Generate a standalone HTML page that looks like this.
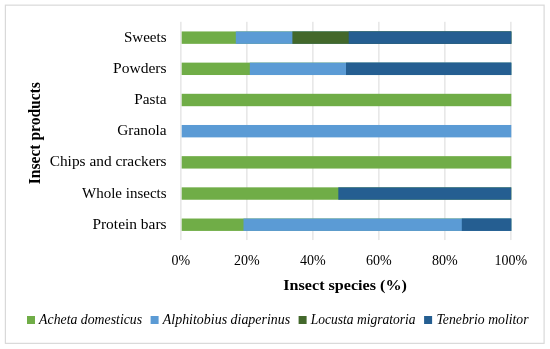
<!DOCTYPE html><html><head><meta charset="utf-8"><style>html,body{margin:0;padding:0;background:#fff;width:550px;height:349px;overflow:hidden}svg{display:block;will-change:transform;filter:blur(0.35px)}text{font-family:"Liberation Serif",serif;fill:#000}</style></head><body>
<svg width="550" height="349" viewBox="0 0 550 349">
<rect x="0" y="0" width="550" height="349" fill="#fff"/>
<rect x="5.4" y="5.15" width="538.7" height="338.2" fill="none" stroke="#D9D9D9" stroke-width="1.2"/>
<line x1="180.90" y1="21.8" x2="180.90" y2="240.06" stroke="#D9D9D9" stroke-width="1"/>
<line x1="246.90" y1="21.8" x2="246.90" y2="240.06" stroke="#D9D9D9" stroke-width="1"/>
<line x1="312.90" y1="21.8" x2="312.90" y2="240.06" stroke="#D9D9D9" stroke-width="1"/>
<line x1="378.90" y1="21.8" x2="378.90" y2="240.06" stroke="#D9D9D9" stroke-width="1"/>
<line x1="444.90" y1="21.8" x2="444.90" y2="240.06" stroke="#D9D9D9" stroke-width="1"/>
<line x1="510.90" y1="21.8" x2="510.90" y2="240.06" stroke="#D9D9D9" stroke-width="1"/>
<rect x="181.70" y="31.44" width="329.60" height="12.4" fill="#70AD47"/>
<rect x="235.80" y="31.44" width="275.50" height="12.4" fill="#5B9BD5"/>
<rect x="292.40" y="31.44" width="218.90" height="12.4" fill="#43682B"/>
<rect x="348.70" y="31.44" width="162.60" height="12.4" fill="#255E91"/>
<rect x="181.70" y="62.62" width="329.60" height="12.4" fill="#70AD47"/>
<rect x="249.80" y="62.62" width="261.50" height="12.4" fill="#5B9BD5"/>
<rect x="346.00" y="62.62" width="165.30" height="12.4" fill="#255E91"/>
<rect x="181.70" y="93.80" width="329.60" height="12.4" fill="#70AD47"/>
<rect x="181.70" y="124.98" width="329.60" height="12.4" fill="#5B9BD5"/>
<rect x="181.70" y="156.16" width="329.60" height="12.4" fill="#70AD47"/>
<rect x="181.70" y="187.34" width="329.60" height="12.4" fill="#70AD47"/>
<rect x="338.30" y="187.34" width="173.00" height="12.4" fill="#255E91"/>
<rect x="181.70" y="218.52" width="329.60" height="12.4" fill="#70AD47"/>
<rect x="243.50" y="218.52" width="267.80" height="12.4" fill="#5B9BD5"/>
<rect x="461.80" y="218.52" width="49.50" height="12.4" fill="#255E91"/>
<text x="166.6" y="41.69" font-size="15" text-anchor="end" textLength="42.7" lengthAdjust="spacingAndGlyphs">Sweets</text>
<text x="166.6" y="72.87" font-size="15" text-anchor="end" textLength="53.6" lengthAdjust="spacingAndGlyphs">Powders</text>
<text x="166.6" y="104.05" font-size="15" text-anchor="end" textLength="32.3" lengthAdjust="spacingAndGlyphs">Pasta</text>
<text x="166.6" y="135.23" font-size="15" text-anchor="end" textLength="49.3" lengthAdjust="spacingAndGlyphs">Granola</text>
<text x="166.6" y="166.41" font-size="15" text-anchor="end" textLength="116.9" lengthAdjust="spacingAndGlyphs">Chips and crackers</text>
<text x="166.6" y="197.59" font-size="15" text-anchor="end" textLength="84.6" lengthAdjust="spacingAndGlyphs">Whole insects</text>
<text x="166.6" y="228.77" font-size="15" text-anchor="end" textLength="74.2" lengthAdjust="spacingAndGlyphs">Protein bars</text>
<text x="180.90" y="265" font-size="14" text-anchor="middle">0%</text>
<text x="246.90" y="265" font-size="14" text-anchor="middle">20%</text>
<text x="312.90" y="265" font-size="14" text-anchor="middle">40%</text>
<text x="378.90" y="265" font-size="14" text-anchor="middle">60%</text>
<text x="444.90" y="265" font-size="14" text-anchor="middle">80%</text>
<text x="510.90" y="265" font-size="14" text-anchor="middle">100%</text>
<text x="345.1" y="289.8" font-size="15.2" font-weight="bold" fill="#222" text-anchor="middle" textLength="123.6" lengthAdjust="spacingAndGlyphs">Insect species (%)</text>
<text transform="translate(39.9,133.2) rotate(-90)" x="0" y="0" font-size="15.8" font-weight="bold" fill="#222" text-anchor="middle" textLength="102" lengthAdjust="spacingAndGlyphs">Insect products</text>
<rect x="27" y="316" width="8" height="8" fill="#70AD47"/>
<text x="39.1" y="323.6" font-size="14" font-style="italic" textLength="103" lengthAdjust="spacingAndGlyphs">Acheta domesticus</text>
<rect x="150.6" y="316" width="8" height="8" fill="#5B9BD5"/>
<text x="162.8" y="323.6" font-size="14" font-style="italic" textLength="127.4" lengthAdjust="spacingAndGlyphs">Alphitobius diaperinus</text>
<rect x="298.6" y="316" width="8" height="8" fill="#43682B"/>
<text x="310.8" y="323.6" font-size="14" font-style="italic" textLength="104.8" lengthAdjust="spacingAndGlyphs">Locusta migratoria</text>
<rect x="424.1" y="316" width="8" height="8" fill="#255E91"/>
<text x="436.5" y="323.6" font-size="14" font-style="italic" textLength="92" lengthAdjust="spacingAndGlyphs">Tenebrio molitor</text>
</svg></body></html>
